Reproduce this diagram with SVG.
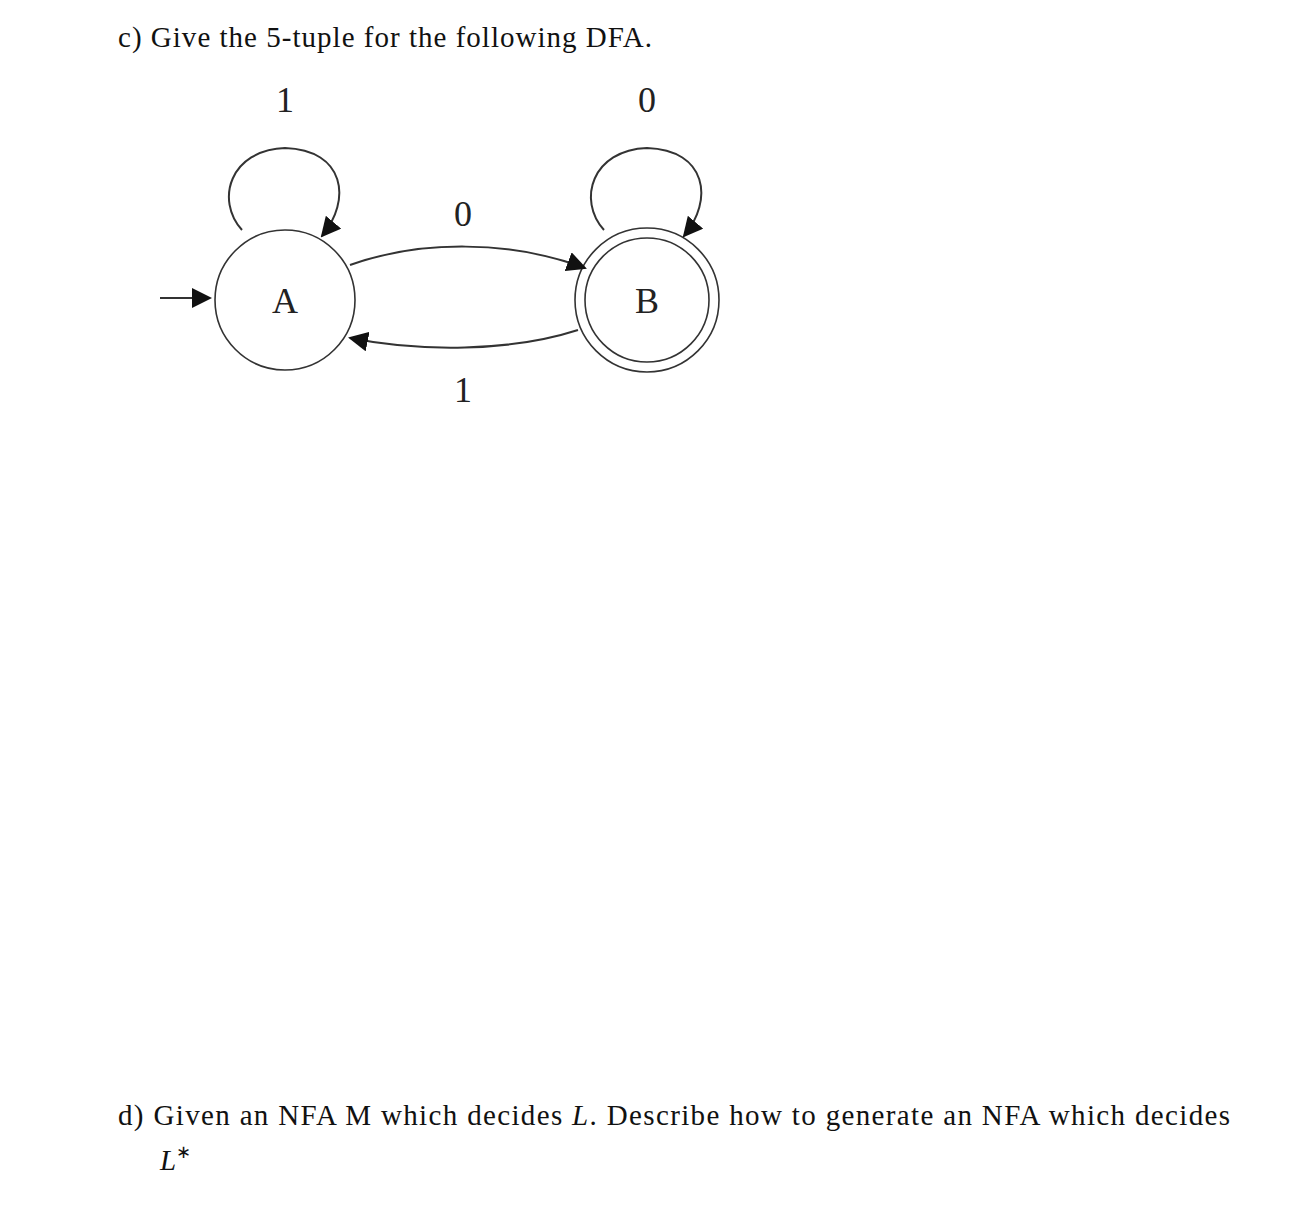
<svg xmlns="http://www.w3.org/2000/svg" width="1314" height="1206" viewBox="0 0 1314 1206">
<style>
.t{font-family:"Liberation Serif",serif;font-size:29px;fill:#111}
.n{fill:none;stroke:#333;stroke-width:1.6}
.lbl{font-family:"Liberation Serif",serif;font-size:36px;fill:#222;text-anchor:middle}
</style>
<defs><marker id="ah2" viewBox="0 0 10 10" refX="9" refY="5" markerWidth="20" markerHeight="20" markerUnits="userSpaceOnUse" orient="auto"><path d="M0,0L10,5L0,10z" fill="#111"/></marker></defs>
<rect width="1314" height="1206" fill="#fff"/>
<text class="t" x="118" y="47" textLength="534" lengthAdjust="spacing">c)  Give the 5-tuple for the following DFA.</text>
<g id="A"><circle class="n" cx="285" cy="300" r="70"/><text class="lbl" x="285" y="313">A</text></g>
<g id="B"><circle class="n" cx="647" cy="300" r="72"/><circle class="n" cx="647" cy="300" r="62"/><text class="lbl" x="647" y="313">B</text></g>
<g id="connectors">
<path d="M160,298H210" fill="none" stroke="#333" stroke-width="2" marker-end="url(#ah2)"/>
<path d="M242,230C215,200 230,150 285,148C345,150 352,200 322,236" fill="none" stroke="#333" stroke-width="2" marker-end="url(#ah2)"/>
<path d="M604,230C577,200 592,150 647,148C707,150 714,200 684,236" fill="none" stroke="#333" stroke-width="2" marker-end="url(#ah2)"/>
<path d="M350,265C420,240 510,240 585,268" fill="none" stroke="#333" stroke-width="2" marker-end="url(#ah2)"/>
<path d="M578,330C510,352 420,352 350,338" fill="none" stroke="#333" stroke-width="2" marker-end="url(#ah2)"/>
<text class="lbl" x="285" y="112">1</text>
<text class="lbl" x="647" y="112">0</text>
<text class="lbl" x="463" y="226">0</text>
<text class="lbl" x="463" y="402">1</text>
</g>
<text class="t" x="118" y="1125" textLength="1112" lengthAdjust="spacing">d)  Given an NFA M which decides <tspan font-style="italic">L</tspan>. Describe how to generate an NFA which decides</text>
<text class="t" x="160" y="1170" font-style="italic">L<tspan font-size="18" dy="-12" font-style="normal">∗</tspan></text>
</svg>
